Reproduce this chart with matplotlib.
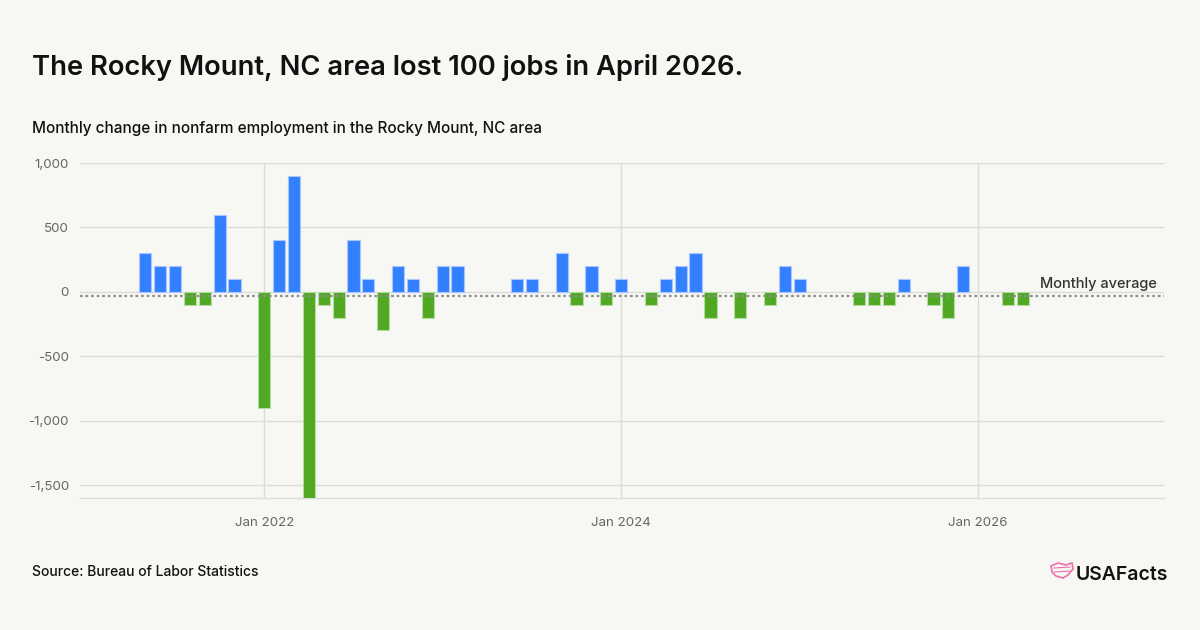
import matplotlib
matplotlib.use("Agg")
import matplotlib.pyplot as plt
from matplotlib.patches import Polygon

# ---------------- data ----------------
months = [
    "May 2021", "Jun 2021", "Jul 2021", "Aug 2021", "Sep 2021", "Oct 2021", "Nov 2021", "Dec 2021",
    "Jan 2022", "Feb 2022", "Mar 2022", "Apr 2022", "May 2022", "Jun 2022", "Jul 2022", "Aug 2022",
    "Sep 2022", "Oct 2022", "Nov 2022", "Dec 2022", "Jan 2023", "Feb 2023", "Mar 2023", "Apr 2023",
    "May 2023", "Jun 2023", "Jul 2023", "Aug 2023", "Sep 2023", "Oct 2023", "Nov 2023", "Dec 2023",
    "Jan 2024", "Feb 2024", "Mar 2024", "Apr 2024", "May 2024", "Jun 2024", "Jul 2024", "Aug 2024",
    "Sep 2024", "Oct 2024", "Nov 2024", "Dec 2024", "Jan 2025", "Feb 2025", "Mar 2025", "Apr 2025",
    "May 2025", "Jun 2025", "Jul 2025", "Aug 2025", "Sep 2025", "Oct 2025", "Nov 2025", "Dec 2025",
    "Jan 2026", "Feb 2026", "Mar 2026", "Apr 2026",
]
job_change = [
    300, 200, 200, -100, -100, 600, 100, 0,
    -900, 400, 900, -1600, -100, -200, 400, 100,
    -300, 200, 100, -200, 200, 200, 0, 0,
    0, 100, 100, 0, 300, -100, 200, -100,
    100, 0, -100, 100, 200, 300, -200, 0,
    -200, 0, -100, 200, 100, 0, 0, 0,
    -100, -100, -100, 100, 0, -100, -200, 200,
    0, 0, -100, -100,
]
monthly_average = -35
xtick_labels = ["Jan 2022", "Jan 2024", "Jan 2026"]
ytick_values = [1000, 500, 0, -500, -1000, -1500]

# ---------------- style ----------------
BG = "#F7F7F3"
BLUE = "#3380FF"
BLUE_EDGE = "#A9C8FF"
GREEN = "#50A823"
GREEN_EDGE = "#B4DDA0"
GRID = "#DCDCD8"
TICK = "#666666"
FONT = ["Inter", "DejaVu Sans"]

plt.rcParams["font.family"] = FONT

W, H = 1200, 630
fig = plt.figure(figsize=(W / 100, H / 100), dpi=100, facecolor=BG)

ax_l, ax_r, ax_t, ax_b = 80, 1164, 163, 498
ax = fig.add_axes([ax_l / W, 1 - ax_b / H, (ax_r - ax_l) / W, (ax_b - ax_t) / H])
ax.set_facecolor(BG)

x = list(range(len(months)))
colors = [BLUE if v > 0 else GREEN for v in job_change]
edges = [BLUE_EDGE if v > 0 else (GREEN_EDGE if v < 0 else "none") for v in job_change]
ax.bar(x, job_change, width=0.82, color=colors, edgecolor=edges, linewidth=0.8, zorder=3)

ax.set_xlim(-4.39, 68.5)
ax.set_ylim(-1600, 1000)

# grid
ax.set_yticks(ytick_values)
ax.set_yticklabels([f"{v:,}" for v in ytick_values])
ax.yaxis.grid(True, color=GRID, linewidth=1, zorder=0)
tick_pos = [months.index(l) for l in xtick_labels]
ax.set_xticks(tick_pos)
ax.set_xticklabels(xtick_labels)
for p in tick_pos:
    ax.axvline(p, color=GRID, linewidth=1, zorder=0)

ax.tick_params(axis="both", length=0, colors=TICK, labelsize=9.6)
ax.tick_params(axis="y", pad=8)
ax.tick_params(axis="x", pad=14)
for s in ["top", "left", "right"]:
    ax.spines[s].set_visible(False)
ax.spines["bottom"].set_color(GRID)
ax.spines["bottom"].set_linewidth(1)

# average line
ax.axhline(monthly_average, color="#8E8E8E", linewidth=1.6, linestyle=(0, (1.2, 1.3)), zorder=4)
ax.text(68.5 - 0.5, monthly_average + 40, "Monthly average", ha="right", va="bottom",
        fontsize=10.5, color="#333333", fontweight="medium", zorder=5)

# texts
fig.text(32 / W, 1 - 75 / H, "The Rocky Mount, NC area lost 100 jobs in April 2026.",
         fontsize=19.7, fontweight="semibold", color="#111111", ha="left", va="baseline")
fig.text(32 / W, 1 - 133 / H, "Monthly change in nonfarm employment in the Rocky Mount, NC area",
         fontsize=11, fontweight="medium", color="#111111", ha="left", va="baseline")
fig.text(32 / W, 1 - 576 / H, "Source: Bureau of Labor Statistics",
         fontsize=10, fontweight="medium", color="#111111", ha="left", va="baseline")
fig.text(1168 / W, 1 - 580 / H, "USAFacts", fontsize=14, fontweight="semibold",
         color="#111111", ha="right", va="baseline")

# simple logo glyph (pink outline)
logo = [(1051, 566), (1058, 563), (1066, 565), (1072, 563), (1073, 569),
        (1068, 575), (1063, 578), (1056, 576), (1052, 572)]
fig.patches.append(Polygon([(px / W, 1 - py / H) for px, py in logo], closed=True,
                           fill=False, edgecolor="#F06FAE", linewidth=1.2,
                           transform=fig.transFigure, figure=fig))
for yy in (568, 572):
    fig.lines.append(plt.Line2D([1054 / W, 1070 / W], [1 - yy / H, 1 - (yy - 1) / H],
                                color="#F06FAE", linewidth=0.8, transform=fig.transFigure))

fig.savefig("out.png", dpi=100, facecolor=BG)
